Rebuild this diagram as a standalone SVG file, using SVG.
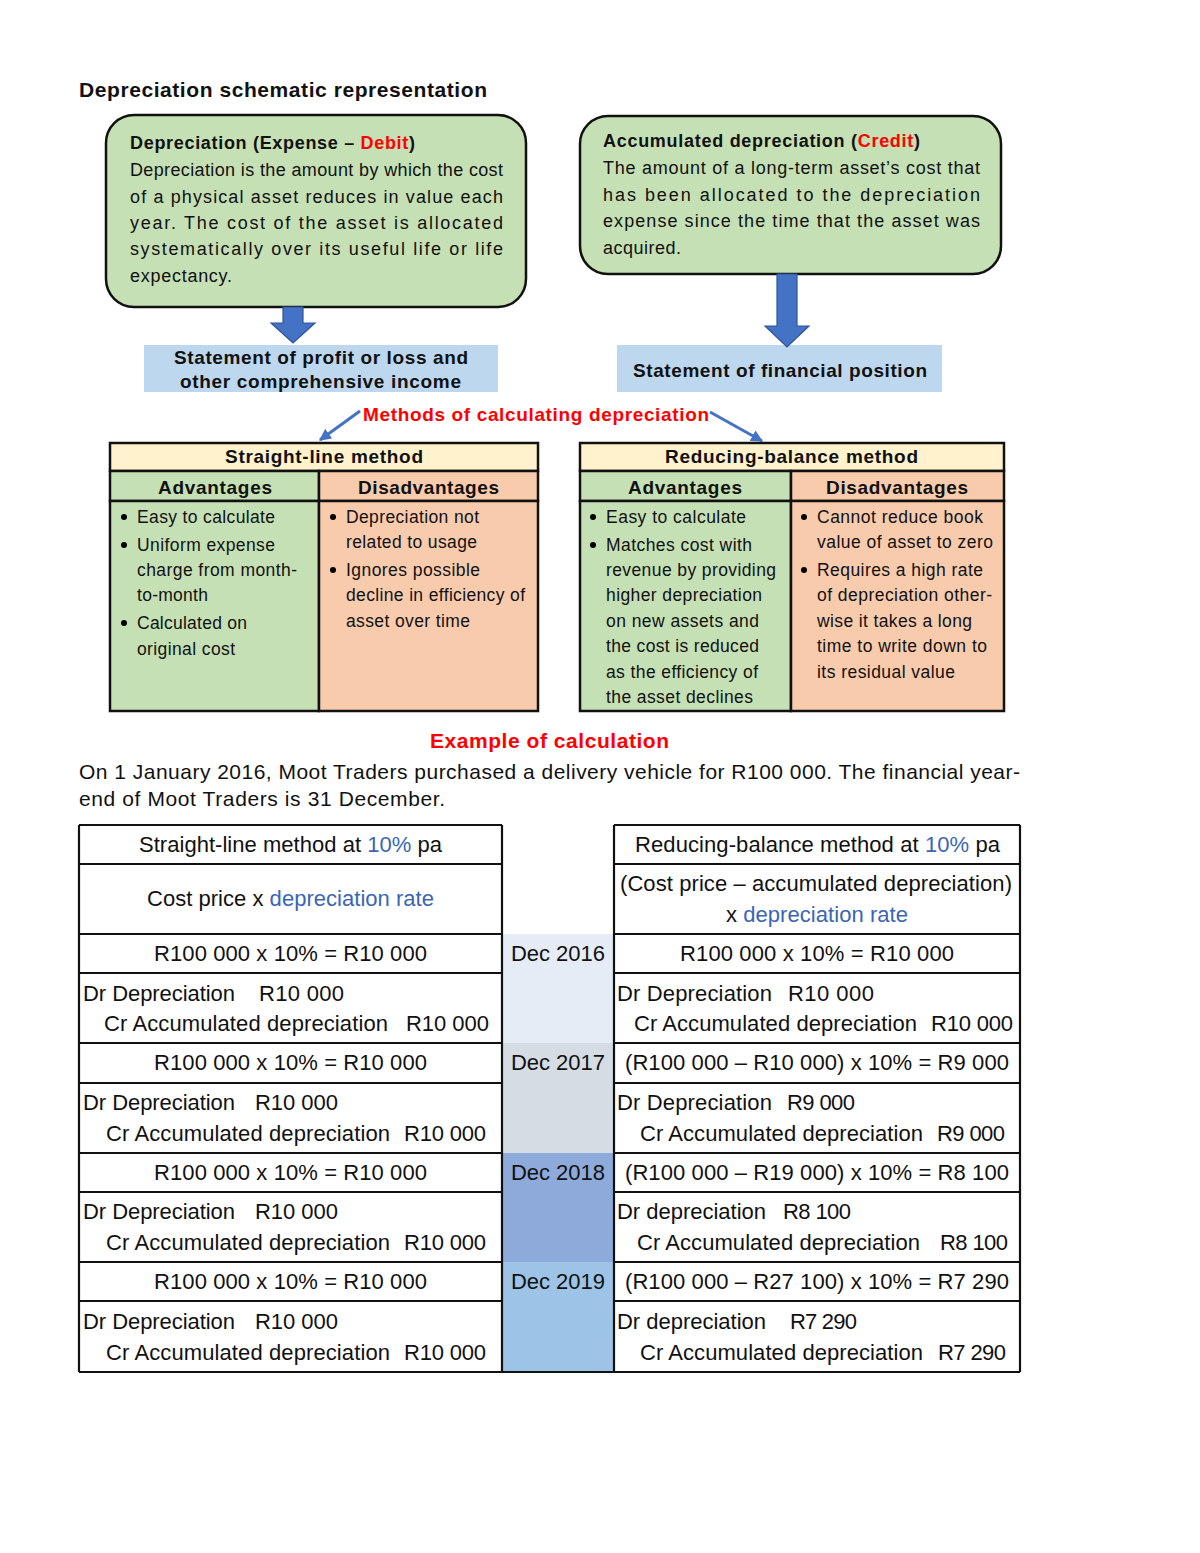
<svg xmlns="http://www.w3.org/2000/svg" width="1200" height="1553" viewBox="0 0 1200 1553">
<style>
text{font-family:"Liberation Sans",Arial,sans-serif;fill:#111}
.b{font-weight:bold}
.red{fill:#ff0000}
.blu{fill:#3a66b4}
.t17{font-size:17.5px}
.bx{font-size:18px}
.t18{font-size:19px}
.t21{font-size:22px}
.box{fill:#c5e0b4;stroke:#111;stroke-width:2.5}
.stmt{fill:#bdd7ee}
.big{fill:#4472c4;stroke:#2f5597;stroke-width:1.2}
.hdr{fill:#fff2cc;stroke:#111;stroke-width:2.5}
.grn{fill:#c5e0b4;stroke:#111;stroke-width:2.5}
.org{fill:#f8cbad;stroke:#111;stroke-width:2.5}
.ln{stroke:#111;stroke-width:2.2;fill:none}
.conn{stroke:#4472c4;stroke-width:3;fill:none}
</style>
<defs>
<marker id="ah" viewBox="0 0 10 10" refX="9" refY="5" markerWidth="4" markerHeight="4" orient="auto">
<path d="M0,0 L10,5 L0,10 z" fill="#4472c4"/>
</marker>
</defs>
<rect width="1200" height="1553" fill="#fff"/>

<text x="79" y="97" class="b" font-size="21" textLength="408">Depreciation schematic representation</text>

<g id="node-expense">
<rect x="106" y="115" width="420" height="192" rx="28" class="box"/>
<text x="130" y="149" class="b bx" textLength="285">Depreciation (Expense – <tspan class="red">Debit</tspan>)</text>
<text x="130" y="176" class="bx" textLength="373">Depreciation is the amount by which the cost</text>
<text x="130" y="203" class="bx" textLength="373">of a physical asset reduces in value each</text>
<text x="130" y="229" class="bx" textLength="373">year. The cost of the asset is allocated</text>
<text x="130" y="255" class="bx" textLength="373">systematically over its useful life or life</text>
<text x="130" y="282" class="bx" textLength="102">expectancy.</text>
</g>

<g id="node-accum">
<rect x="580" y="116" width="421" height="158" rx="28" class="box"/>
<text x="603" y="147" class="b bx" textLength="317">Accumulated depreciation (<tspan class="red">Credit</tspan>)</text>
<text x="603" y="174" class="bx" textLength="377">The amount of a long-term asset’s cost that</text>
<text x="603" y="201" class="bx" textLength="377">has been allocated to the depreciation</text>
<text x="603" y="227" class="bx" textLength="377">expense since the time that the asset was</text>
<text x="603" y="254" class="bx" textLength="78">acquired.</text>
</g>

<g id="node-sopl">
<rect x="144" y="345" width="354" height="47" class="stmt"/>
<text x="174" y="364" class="b t18" textLength="294">Statement of profit or loss and</text>
<text x="180" y="388" class="b t18" textLength="281">other comprehensive income</text>
</g>

<g id="node-sofp">
<rect x="617" y="345" width="325" height="47" class="stmt"/>
<text x="633" y="377" class="b t18" textLength="294">Statement of financial position</text>
</g>

<g id="node-methods">
<text x="363" y="421" class="b t18 red" textLength="346">Methods of calculating depreciation</text>
</g>

<g id="connectors">
<polygon class="big" points="283,307 303,307 303,323 315,323 293,343 271,323 283,323"/>
<polygon class="big" points="777,274 797,274 797,326 809,326 787,347 765,326 777,326"/>
<line class="conn" x1="360" y1="411" x2="320" y2="440" marker-end="url(#ah)"/>
<line class="conn" x1="710" y1="412" x2="762" y2="441" marker-end="url(#ah)"/>
</g>

<g id="node-straight-line">
<rect x="110" y="443" width="428" height="28" class="hdr"/>
<rect x="110" y="471" width="209" height="30" class="grn"/>
<rect x="319" y="471" width="219" height="30" class="org"/>
<rect x="110" y="501" width="209" height="210" class="grn"/>
<rect x="319" y="501" width="219" height="210" class="org"/>
<text x="225" y="463" class="b t18" textLength="198">Straight-line method</text>
<text x="158" y="494" class="b t18" textLength="114">Advantages</text>
<text x="358" y="494" class="b t18" textLength="141">Disadvantages</text>
<circle cx="124" cy="517" r="3"/><text x="137" y="523" class="t17" textLength="138">Easy to calculate</text>
<circle cx="124" cy="545" r="3"/><text x="137" y="551" class="t17" textLength="138">Uniform expense</text>
<text x="137" y="576" class="t17" textLength="160">charge from month-</text>
<text x="137" y="601" class="t17" textLength="71">to-month</text>
<circle cx="124" cy="623" r="3"/><text x="137" y="629" class="t17" textLength="110">Calculated on</text>
<text x="137" y="655" class="t17" textLength="98">original cost</text>
<circle cx="333" cy="517" r="3"/><text x="346" y="523" class="t17" textLength="133">Depreciation not</text>
<text x="346" y="548" class="t17" textLength="131">related to usage</text>
<circle cx="333" cy="570" r="3"/><text x="346" y="576" class="t17" textLength="134">Ignores possible</text>
<text x="346" y="601" class="t17" textLength="179">decline in efficiency of</text>
<text x="346" y="627" class="t17" textLength="124">asset over time</text>
</g>

<g id="node-reducing-balance">
<rect x="580" y="443" width="424" height="28" class="hdr"/>
<rect x="580" y="471" width="211" height="30" class="grn"/>
<rect x="791" y="471" width="213" height="30" class="org"/>
<rect x="580" y="501" width="211" height="210" class="grn"/>
<rect x="791" y="501" width="213" height="210" class="org"/>
<text x="665" y="463" class="b t18" textLength="253">Reducing-balance method</text>
<text x="628" y="494" class="b t18" textLength="114">Advantages</text>
<text x="826" y="494" class="b t18" textLength="142">Disadvantages</text>
<circle cx="593" cy="517" r="3"/><text x="606" y="523" class="t17" textLength="140">Easy to calculate</text>
<circle cx="593" cy="545" r="3"/><text x="606" y="551" class="t17" textLength="146">Matches cost with</text>
<text x="606" y="576" class="t17" textLength="170">revenue by providing</text>
<text x="606" y="601" class="t17" textLength="156">higher depreciation</text>
<text x="606" y="627" class="t17" textLength="153">on new assets and</text>
<text x="606" y="652" class="t17" textLength="153">the cost is reduced</text>
<text x="606" y="678" class="t17" textLength="152">as the efficiency of</text>
<text x="606" y="703" class="t17" textLength="147">the asset declines</text>
<circle cx="804" cy="517" r="3"/><text x="817" y="523" class="t17" textLength="166">Cannot reduce book</text>
<text x="817" y="548" class="t17" textLength="176">value of asset to zero</text>
<circle cx="804" cy="570" r="3"/><text x="817" y="576" class="t17" textLength="166">Requires a high rate</text>
<text x="817" y="601" class="t17" textLength="175">of depreciation other-</text>
<text x="817" y="627" class="t17" textLength="155">wise it takes a long</text>
<text x="817" y="652" class="t17" textLength="170">time to write down to</text>
<text x="817" y="678" class="t17" textLength="138">its residual value</text>
</g>

<g id="node-example">
<text x="430" y="748" class="b red" font-size="21" textLength="239">Example of calculation</text>
<text x="79" y="779" font-size="21" textLength="941">On 1 January 2016, Moot Traders purchased a delivery vehicle for R100 000. The financial year-</text>
<text x="79" y="806" font-size="21" textLength="366">end of Moot Traders is 31 December.</text>
</g>

<g id="node-calc-table">
<rect x="502" y="934" width="112" height="109" fill="#e5ecf6"/>
<rect x="502" y="1043" width="112" height="110" fill="#d5dce4"/>
<rect x="502" y="1153" width="112" height="109" fill="#8eaadb"/>
<rect x="502" y="1262" width="112" height="110" fill="#9dc3e6"/>
<path class="ln" d="M79,825 H502 M79,864 H502 M79,934 H502 M79,973 H502 M79,1043 H502 M79,1083 H502 M79,1153 H502 M79,1192 H502 M79,1262 H502 M79,1301 H502 M79,1372 H1020"/>
<path class="ln" d="M614,825 H1020 M614,864 H1020 M614,934 H1020 M614,973 H1020 M614,1043 H1020 M614,1083 H1020 M614,1153 H1020 M614,1192 H1020 M614,1262 H1020 M614,1301 H1020"/>
<path class="ln" d="M79,825 V1372 M502,825 V1372 M614,825 V1372 M1020,825 V1372"/>

<text x="139" y="852" class="t21" textLength="303">Straight-line method at <tspan class="blu">10%</tspan> pa</text>
<text x="147" y="906" class="t21" textLength="287">Cost price x <tspan class="blu">depreciation rate</tspan></text>
<text x="635" y="852" class="t21" textLength="365">Reducing-balance method at <tspan class="blu">10%</tspan> pa</text>
<text x="620" y="891" class="t21" textLength="392">(Cost price – accumulated depreciation)</text>
<text x="726" y="922" class="t21" textLength="182">x <tspan class="blu">depreciation rate</tspan></text>

<text x="154" y="961" class="t21" textLength="273">R100 000 x 10% = R10 000</text>
<text x="511" y="961" class="t21" textLength="94">Dec 2016</text>
<text x="680" y="961" class="t21" textLength="274">R100 000 x 10% = R10 000</text>

<text x="83" y="1001" class="t21" textLength="152">Dr Depreciation</text><text x="259" y="1001" class="t21" textLength="85">R10 000</text>
<text x="104" y="1031" class="t21" textLength="284">Cr Accumulated depreciation</text><text x="406" y="1031" class="t21" textLength="83">R10 000</text>
<text x="617" y="1001" class="t21" textLength="155">Dr Depreciation</text><text x="788" y="1001" class="t21" textLength="86">R10 000</text>
<text x="634" y="1031" class="t21" textLength="283">Cr Accumulated depreciation</text><text x="931" y="1031" class="t21" textLength="82">R10 000</text>

<text x="154" y="1070" class="t21" textLength="273">R100 000 x 10% = R10 000</text>
<text x="511" y="1070" class="t21" textLength="94">Dec 2017</text>
<text x="625" y="1070" class="t21" textLength="384">(R100 000 – R10 000) x 10% = R9 000</text>

<text x="83" y="1110" class="t21" textLength="152">Dr Depreciation</text><text x="255" y="1110" class="t21" textLength="83">R10 000</text>
<text x="106" y="1141" class="t21" textLength="284">Cr Accumulated depreciation</text><text x="404" y="1141" class="t21" textLength="82">R10 000</text>
<text x="617" y="1110" class="t21" textLength="155">Dr Depreciation</text><text x="787" y="1110" class="t21" textLength="68">R9 000</text>
<text x="640" y="1141" class="t21" textLength="283">Cr Accumulated depreciation</text><text x="937" y="1141" class="t21" textLength="68">R9 000</text>

<text x="154" y="1180" class="t21" textLength="273">R100 000 x 10% = R10 000</text>
<text x="511" y="1180" class="t21" textLength="94">Dec 2018</text>
<text x="625" y="1180" class="t21" textLength="384">(R100 000 – R19 000) x 10% = R8 100</text>

<text x="83" y="1219" class="t21" textLength="152">Dr Depreciation</text><text x="255" y="1219" class="t21" textLength="83">R10 000</text>
<text x="106" y="1250" class="t21" textLength="284">Cr Accumulated depreciation</text><text x="404" y="1250" class="t21" textLength="82">R10 000</text>
<text x="617" y="1219" class="t21" textLength="149">Dr depreciation</text><text x="783" y="1219" class="t21" textLength="68">R8 100</text>
<text x="637" y="1250" class="t21" textLength="283">Cr Accumulated depreciation</text><text x="940" y="1250" class="t21" textLength="68">R8 100</text>

<text x="154" y="1289" class="t21" textLength="273">R100 000 x 10% = R10 000</text>
<text x="511" y="1289" class="t21" textLength="94">Dec 2019</text>
<text x="625" y="1289" class="t21" textLength="384">(R100 000 – R27 100) x 10% = R7 290</text>

<text x="83" y="1329" class="t21" textLength="152">Dr Depreciation</text><text x="255" y="1329" class="t21" textLength="83">R10 000</text>
<text x="106" y="1360" class="t21" textLength="284">Cr Accumulated depreciation</text><text x="404" y="1360" class="t21" textLength="82">R10 000</text>
<text x="617" y="1329" class="t21" textLength="149">Dr depreciation</text><text x="790" y="1329" class="t21" textLength="67">R7 290</text>
<text x="640" y="1360" class="t21" textLength="283">Cr Accumulated depreciation</text><text x="938" y="1360" class="t21" textLength="68">R7 290</text>
</g>
</svg>
